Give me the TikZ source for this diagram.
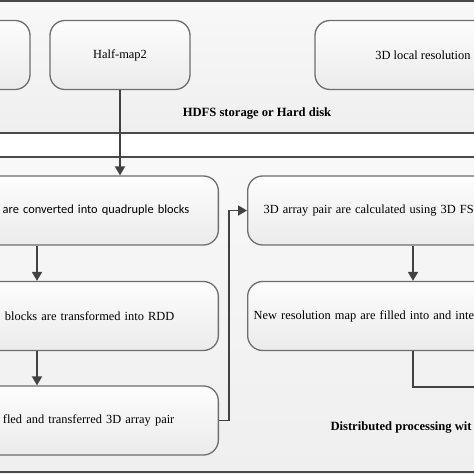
\documentclass[tikz,border=0pt]{standalone}
\usepackage{fontspec}
\setmainfont{Liberation Serif}
\newfontfamily\calibrifont{Carlito}
\usepackage{tikz}
\usetikzlibrary{arrows.meta, positioning, calc}
\definecolor{frameline}{HTML}{4A4A4A}
\definecolor{boxline}{HTML}{6E6E6E}
\definecolor{flowline}{HTML}{424242}
\definecolor{paneltop}{HTML}{F8F8F8}
\definecolor{panelbottom}{HTML}{EFEFEF}
\definecolor{boxtop}{HTML}{FDFDFD}
\definecolor{boxbottom}{HTML}{EBEBEB}

\begin{document}
\begin{tikzpicture}[x=1pt, y=-1pt,
    panel/.style={draw=frameline, line width=2.4pt, top color=paneltop, bottom color=panelbottom},
    stage/.style={rectangle, rounded corners=15pt, draw=boxline, line width=1.3pt, top color=boxtop, bottom color=boxbottom, minimum height=69pt, inner ysep=0pt, font=\fontsize{12.4}{15}\selectfont},
    flow/.style={-{Triangle[width=10pt,length=9pt]}, line width=1.8pt, draw=flowline},
    wire/.style={line width=1.8pt, draw=flowline},
    title/.style={font=\fontsize{12.6}{15}\selectfont\bfseries},
]
\useasboundingbox (0,0) rectangle (474,474);
\fill[white] (0,0) rectangle (474,474);
\fill[panelbottom] (0,472) rectangle (474,474);

% storage layer and processing layer
\draw[panel] (-10,1) rectangle (484,133);
\draw[panel] (-10,157) rectangle (484,472);

\node[stage, minimum width=140pt] (half1) at (-40,55) {};
\node[stage, minimum width=140pt] (half2) at (120,55) {Half-map2};
\node[stage, minimum width=216pt] (localres) at (423,55) {3D local resolution};
\node[title] (hdfs) at (257,114) {HDFS storage or Hard disk};

\node[stage, anchor=east, text width=260pt, align=right, inner xsep=29pt] (quad) at (219,210.5) {\calibrifont are converted into quadruple blocks};
\node[stage, anchor=east, text width=260pt, align=right, inner xsep=44pt] (rdd) at (219,316) {blocks are transformed into RDD};
\node[stage, anchor=east, text width=260pt, align=right, inner xsep=44pt] (pair) at (219,420.5) {fled and transferred 3D array pair};

\node[stage, anchor=west, text width=300pt, align=left, inner xsep=16pt] (fsc) at (247,210.5) {3D array pair are calculated using 3D FS};
\node[stage, anchor=west, text width=300pt, align=left, inner xsep=6pt] (newmap) at (247,316) {New resolution map are filled into and inte};
\node[title, anchor=west] (spark) at (327,428) {Distributed processing wit};

\coordinate (lcol) at (37,0);
\coordinate (rcol) at (413,0);
\coordinate (out) at (484,387);

\draw[flow] (half2.south) -- (half2.south |- quad.north);
\draw[flow] (quad.south -| lcol) -- (rdd.north -| lcol);
\draw[flow] (rdd.south -| lcol) -- (pair.north -| lcol);
\draw[flow] (pair.east) -- ++(10,0) |- (fsc.west);
\draw[flow] (fsc.south -| rcol) -- (newmap.north -| rcol);
\draw[wire] (newmap.south -| rcol) |- (out);
\end{tikzpicture}
\end{document}
